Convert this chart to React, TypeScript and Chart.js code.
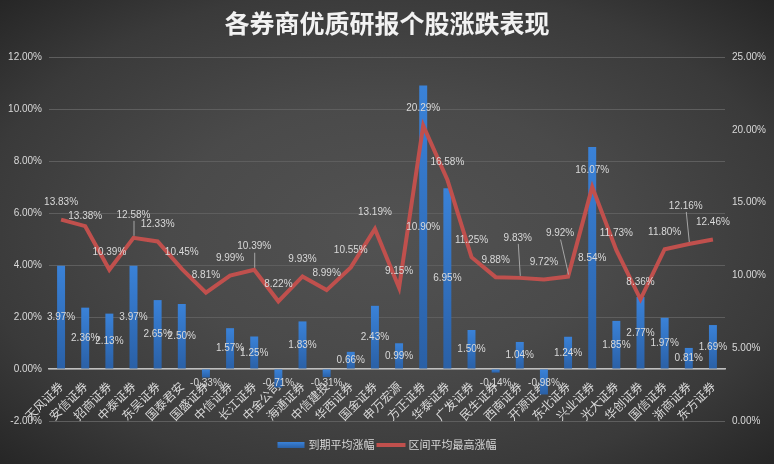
import React, { useEffect, useRef } from "react";
import { Chart, registerables } from "chart.js";

Chart.register(...registerables);

const titleText = "各券商优质研报个股涨跌表现";
const seriesNames = ["到期平均涨幅", "区间平均最高涨幅"];

const categories = [
  "天风证券", "安信证券", "招商证券", "中泰证券", "东吴证券", "国泰君安", "国盛证券",
  "中信证券", "长江证券", "中金公司", "海通证券", "中信建投", "华西证券", "国金证券",
  "申万宏源", "方正证券", "华泰证券", "广发证券", "民生证券", "西南证券", "开源证券",
  "东北证券", "兴业证券", "光大证券", "华创证券", "国信证券", "浙商证券", "东方证券",
];

// 到期平均涨幅 (%), left axis
const avgReturn = [
  3.97, 2.36, 2.13, 3.97, 2.65, 2.5, -0.33, 1.57, 1.25, -0.71, 1.83, -0.31, 0.66, 2.43,
  0.99, 10.9, 6.95, 1.5, -0.14, 1.04, -0.98, 1.24, 8.54, 1.85, 2.77, 1.97, 0.81, 1.69,
];

// 区间平均最高涨幅 (%), right axis
const maxReturn = [
  13.83, 13.38, 10.39, 12.58, 12.33, 10.45, 8.81, 9.99, 10.39, 8.22, 9.93, 8.99, 10.55, 13.19,
  9.15, 20.29, 16.58, 11.25, 9.88, 9.83, 9.72, 9.92, 16.07, 11.73, 8.36, 11.8, 12.16, 12.46,
];

const leftAxis = { min: -2, max: 12, step: 2 };
const rightAxis = { min: 0, max: 25, step: 5 };

const TEXT = "#d9d9d9";
const BLUE = "#2f72c4";
const RED = "#c0504d";
const LABEL_FONT = '10px "Liberation Sans", Arial, sans-serif';
const CJK_FONT = '"Noto Sans CJK SC", sans-serif';

const fmt = (v: number) => v.toFixed(2) + "%";

// label placement tweaks (style only)
const lineLabelDy: Record<number, number> = { 1: -10, 3: -23, 8: -23, 19: -40, 21: -43, 26: -38 };
const lineLabelDx: Record<number, number> = { 19: -2, 21: -8, 26: -3 };
const leaderIdx = new Set([3, 8, 19, 21, 26]);

const decorPlugin = {
  id: "decor",
  afterDatasetsDraw(chart: any) {
    const ctx = chart.ctx as CanvasRenderingContext2D;
    ctx.save();
    ctx.font = LABEL_FONT;
    ctx.fillStyle = TEXT;
    ctx.textAlign = "center";
    ctx.textBaseline = "middle";

    const yZero = chart.scales.y.getPixelForValue(0);
    const barMeta = chart.getDatasetMeta(1);
    barMeta.data.forEach((el: any, i: number) => {
      const v = avgReturn[i];
      const y = v >= 0 ? (el.y + yZero) / 2 : yZero + 14;
      ctx.fillText(fmt(v), el.x, y);
    });

    const lineMeta = chart.getDatasetMeta(0);
    lineMeta.data.forEach((pt: any, i: number) => {
      const dy = lineLabelDy[i] ?? -17;
      const dx = lineLabelDx[i] ?? 0;
      const lx = pt.x + dx;
      const ly = pt.y + dy;
      if (leaderIdx.has(i)) {
        ctx.strokeStyle = "#a6a6a6";
        ctx.lineWidth = 1;
        ctx.beginPath();
        ctx.moveTo(lx + 0.5, ly + 6);
        ctx.lineTo(pt.x + 0.5, pt.y - 2);
        ctx.stroke();
      }
      ctx.fillStyle = TEXT;
      ctx.fillText(fmt(maxReturn[i]), lx, ly);
    });
    ctx.restore();
  },
  afterDraw(chart: any) {
    const ctx = chart.ctx as CanvasRenderingContext2D;
    const W = chart.width;
    ctx.save();
    // title
    ctx.font = "bold 25px " + CJK_FONT;
    ctx.fillStyle = "#f2f2f2";
    ctx.textAlign = "center";
    ctx.textBaseline = "middle";
    ctx.fillText(titleText, W / 2, 23);

    // legend
    ctx.font = "11px " + CJK_FONT;
    ctx.textAlign = "left";
    const w1 = ctx.measureText(seriesNames[0]).width;
    const w2 = ctx.measureText(seriesNames[1]).width;
    const total = 27 + 4 + w1 + 2 + 29 + 3 + w2;
    let x = W / 2 - total / 2;
    const cy = 445;
    const g = ctx.createLinearGradient(0, cy - 3, 0, cy + 3);
    g.addColorStop(0, "#3a82d8");
    g.addColorStop(1, "#2a60a6");
    ctx.fillStyle = g;
    ctx.fillRect(x, cy - 3, 27, 6);
    x += 31;
    ctx.fillStyle = TEXT;
    ctx.fillText(seriesNames[0], x, cy);
    x += w1 + 2;
    ctx.strokeStyle = RED;
    ctx.lineWidth = 4;
    ctx.beginPath();
    ctx.moveTo(x, cy);
    ctx.lineTo(x + 29, cy);
    ctx.stroke();
    x += 32;
    ctx.fillStyle = TEXT;
    ctx.fillText(seriesNames[1], x, cy);
    ctx.restore();
  },
};

export default function App() {
  const ref = useRef<HTMLCanvasElement | null>(null);

  useEffect(() => {
    if (!ref.current) return;
    const chart = new Chart(ref.current, {
      type: "bar",
      data: {
        labels: categories,
        datasets: [
          {
            type: "line",
            label: seriesNames[1],
            data: maxReturn,
            yAxisID: "y1",
            borderColor: RED,
            backgroundColor: RED,
            borderWidth: 4,
            pointRadius: 0,
            tension: 0,
            order: 0,
          } as any,
          {
            type: "bar",
            label: seriesNames[0],
            data: avgReturn,
            yAxisID: "y",
            barPercentage: 0.33,
            categoryPercentage: 1,
            order: 1,
            backgroundColor: (c: any) => {
              const chart = c.chart;
              const ys = chart.scales && chart.scales.y;
              if (!ys || c.dataIndex === undefined) return BLUE;
              const v = avgReturn[c.dataIndex];
              const p0 = ys.getPixelForValue(0);
              const p1 = ys.getPixelForValue(v);
              if (!isFinite(p0) || !isFinite(p1) || p0 === p1) return BLUE;
              const top = Math.min(p0, p1);
              const bot = Math.max(p0, p1);
              const g = chart.ctx.createLinearGradient(0, top, 0, bot);
              g.addColorStop(0, "#3a82d8");
              g.addColorStop(1, "#2a60a6");
              return g;
            },
          } as any,
        ],
      },
      options: {
        responsive: false,
        animation: false,
        devicePixelRatio: 1,
        layout: { padding: { top: 57, bottom: 43, left: 0, right: 0 } },
        plugins: {
          legend: { display: false },
          title: { display: false },
          tooltip: { enabled: false },
        },
        scales: {
          x: {
            position: { y: 0 } as any,
            grid: { display: false },
            border: { display: true, color: "#bfbfbf", width: 1.5 },
            ticks: {
              autoSkip: false,
              minRotation: 45,
              maxRotation: 45,
              color: TEXT,
              font: { family: CJK_FONT, size: 12 },
              padding: 2,
            },
          },
          y: {
            position: "left",
            min: leftAxis.min,
            max: leftAxis.max,
            afterFit: (s: any) => {
              s.width = 49;
            },
            grid: { color: "#5e5e5e", drawTicks: false, lineWidth: 1 },
            border: { display: false },
            ticks: {
              stepSize: leftAxis.step,
              color: TEXT,
              font: { family: '"Liberation Sans", Arial, sans-serif', size: 10 },
              padding: 7,
              callback: (v: any) => fmt(Number(v)),
            },
          },
          y1: {
            position: "right",
            min: rightAxis.min,
            max: rightAxis.max,
            afterFit: (s: any) => {
              s.width = 49;
            },
            grid: { display: false, drawTicks: false },
            border: { display: false },
            ticks: {
              stepSize: rightAxis.step,
              color: TEXT,
              font: { family: '"Liberation Sans", Arial, sans-serif', size: 10 },
              padding: 7,
              callback: (v: any) => fmt(Number(v)),
            },
          },
        },
      } as any,
      plugins: [decorPlugin],
    });
    return () => chart.destroy();
  }, []);

  return (
    <div
      style={{
        position: "fixed",
        left: 0,
        top: 0,
        width: 774,
        height: 464,
        background:
          "radial-gradient(ellipse at 50% 50%, #525252 0%, #4a4a4a 40%, #3a3a3a 75%, #262626 100%)",
      }}
    >
      <canvas ref={ref} width={774} height={464} style={{ display: "block" }} />
    </div>
  );
}
